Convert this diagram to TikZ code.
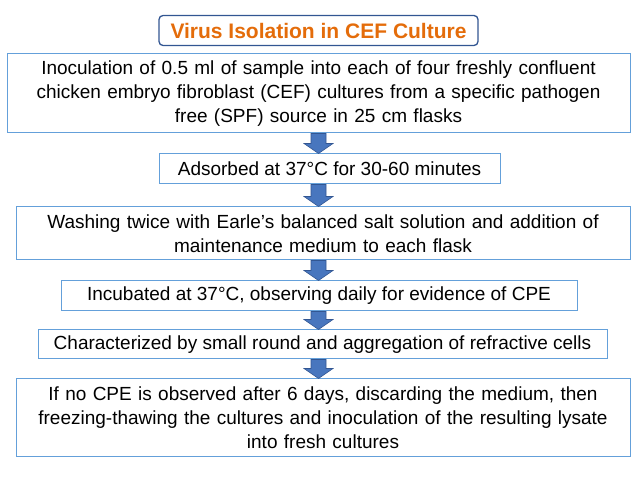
\documentclass[tikz,border=0pt]{standalone}
\usepackage{fontspec}
\setmainfont{Liberation Sans}
\usetikzlibrary{calc}
\definecolor{boxline}{RGB}{100,160,218}
\definecolor{arrowfill}{RGB}{72,118,190}
\definecolor{arrowline}{RGB}{50,86,146}
\definecolor{titletext}{RGB}{228,108,10}
\tikzset{
x=1pt, y=-1pt, % one unit is one pixel of the slide, y runs downwards
stepbox/.style={draw=boxline, line width=1pt, fill=white, inner sep=2pt, align=center, font=\fontsize{19}{24}\selectfont}, % the light blue boxes
titlebox/.style={draw=arrowline, line width=1.3pt, rounded corners=4pt, text=titletext, font=\fontsize{21}{25}\selectfont\bfseries, minimum width=319pt, minimum height=30pt}, % heading
flowarrow/.style={fill=arrowfill, draw=arrowline, line width=0.6pt}, % the block arrows between boxes
}
% block arrow from the bottom of one box to the top of the next
\newcommand{\stepdown}[2]{%
  \path[flowarrow] let \p0=(title.south), \p1=(#1.south), \p2=(#2.north) in
    (\x0-7.5,\y1) -- (\x0+7.5,\y1) -- (\x0+7.5,\y2+10) -- (\x0+14.5,\y2+10)
    -- (\x0,\y2) -- (\x0-14.5,\y2+10) -- (\x0-7.5,\y2+10) -- cycle;}

\begin{document}
\begin{tikzpicture}
    \useasboundingbox (0,0) rectangle (638,478);
    \node[titlebox] (title) at (318.5,30.5) {Virus Isolation in CEF Culture};
    \node[stepbox, minimum width=623pt, minimum height=79pt, text width=610pt] (b1) at (318.5,93.5)
      {Inoculation of 0.5 ml of sample into each of four freshly confluent\\
       chicken embryo fibroblast (CEF) cultures from a specific pathogen\\
       free (SPF) source in 25 cm flasks};
    \node[stepbox, minimum width=341pt, minimum height=30pt] (b2) at (329.5,169)
      {Adsorbed at 37°C for 30-60 minutes};
    \node[stepbox, minimum width=614pt, minimum height=53pt, text width=600pt] (b3) at (323,233.5)
      {Washing twice with Earle’s balanced salt solution and addition of\\
       maintenance medium to each flask};
    \node[stepbox, minimum width=516pt, minimum height=30pt] (b4) at (319,296)
      {Incubated at 37°C, observing daily for evidence of CPE};
    \node[stepbox, minimum width=569pt, minimum height=29pt] (b5) at (322.5,344.5)
      {Characterized by small round and aggregation of refractive cells};
    \node[stepbox, minimum width=614pt, minimum height=78pt, text width=600pt] (b6) at (323,418)
      {If no CPE is observed after 6 days, discarding the medium, then\\
       freezing-thawing the cultures and inoculation of the resulting lysate\\
       into fresh cultures};
    \stepdown{b1}{b2}
    \stepdown{b2}{b3}
    \stepdown{b3}{b4}
    \stepdown{b4}{b5}
    \stepdown{b5}{b6}
\end{tikzpicture}
\end{document}
